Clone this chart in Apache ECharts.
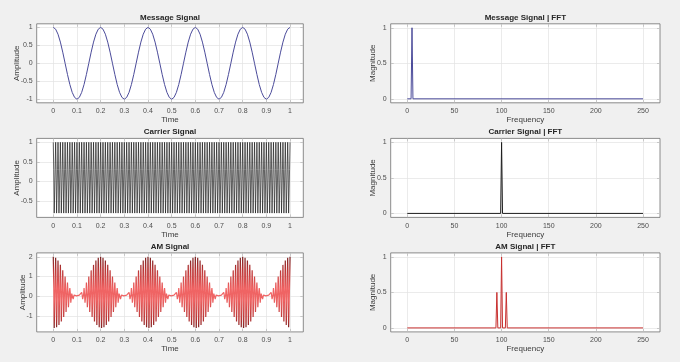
<!DOCTYPE html>
<html><head><meta charset="utf-8">
<script src="https://cdn.jsdelivr.net/npm/echarts@6/dist/echarts.min.js"></script>
<style>html,body{margin:0;padding:0;background:#f0f0f0}#c{width:680px;height:362px}</style>
</head><body><div id="c"></div><script>
// ---- tick labels ----
const timeTicks = [0, 0.1, 0.2, 0.3, 0.4, 0.5, 0.6, 0.7, 0.8, 0.9, 1];
const freqTicks = [0, 50, 100, 150, 200, 250];
const messageAmpTicks = [-1, -0.5, 0, 0.5, 1];
const carrierAmpTicks = [-0.5, 0, 0.5, 1];
const amAmpTicks = [-1, 0, 1, 2];
const magnitudeTicks = [0, 0.5, 1];

// ---- titles ----
const plotTitles = ['Message Signal', 'Message Signal | FFT', 'Carrier Signal', 'Carrier Signal | FFT', 'AM Signal', 'AM Signal | FFT'];

// ---- message signal: one period (0.2 s) read every 0.01 s, repeated 5 times ----
const messageStep = 0.01;
const messageCycle = [1, 0.95, 0.81, 0.59, 0.31, 0, -0.31, -0.59, -0.81, -0.95, -1, -0.95, -0.81, -0.59, -0.31, 0, 0.31, 0.59, 0.81, 0.95];
const messageCycles = 5;

// ---- carrier signal: one period (0.01 s) read every 0.002 s, repeated 100 times ----
const carrierStep = 0.002;
const carrierCycle = [1, 0.31, -0.81, -0.81, 0.31];
const carrierCycles = 100;

// ---- spectra (normalised magnitude) ----
const messageFftFreq = [0, 4, 5, 6, 250];
const messageFftMag = [0, 0, 1, 0, 0];
const carrierFftFreq = [0, 99, 100, 101, 250];
const carrierFftMag = [0, 0, 1, 0, 0];
const amFftFreq = [0, 94, 95, 96, 99, 100, 101, 104, 105, 106, 250];
const amFftMag = [0, 0, 0.5, 0, 0, 1, 0, 0, 0.5, 0, 0];

// ---- build series data ----
const messageData = [];
for (let k = 0; k <= messageCycle.length * messageCycles; k++) {
  messageData.push([+(k * messageStep).toFixed(4), messageCycle[k % messageCycle.length]]);
}
const carrierData = [];
const amData = [];
const samplesPerMessageStep = Math.round(messageStep / carrierStep);
for (let n = 0; n <= carrierCycle.length * carrierCycles; n++) {
  const t = +(n * carrierStep).toFixed(4);
  const c = carrierCycle[n % carrierCycle.length];
  const m = messageCycle[Math.floor(n / samplesPerMessageStep) % messageCycle.length];
  carrierData.push([t, c]);
  amData.push([t, (1 + m) * c]);
}
const zip = (a, b) => a.map((v, i) => [v, b[i]]);

const amGradient = new echarts.graphic.LinearGradient(0, 0, 0, 1, [
  { offset: 0, color: '#6e2020' }, { offset: 0.2, color: '#b83434' }, { offset: 0.45, color: '#f06464' },
  { offset: 0.6, color: '#ee6464' }, { offset: 0.85, color: '#b83434' }, { offset: 1, color: '#6e2020' }]);

const panels = [
  { data: messageData, color: '#4b4b9a', width: 1, xTicks: timeTicks, yTicks: messageAmpTicks, xr: [-0.07, 1.056], yr: [-1.1, 1.1], xName: 'Time', yName: 'Amplitude', yGap: 16 },
  { data: zip(messageFftFreq, messageFftMag), color: '#4b4b9a', width: 1, xTicks: freqTicks, yTicks: magnitudeTicks, xr: [-17.6, 268], yr: [-0.056, 1.056], xName: 'Frequency', yName: 'Magnitude', yGap: 14 },
  { data: carrierData, color: '#1e1e1e', width: 0.7, xTicks: timeTicks, yTicks: carrierAmpTicks, xr: [-0.07, 1.056], yr: [-0.92, 1.1], xName: 'Time', yName: 'Amplitude', yGap: 16 },
  { data: zip(carrierFftFreq, carrierFftMag), color: '#1e1e1e', width: 1, xTicks: freqTicks, yTicks: magnitudeTicks, xr: [-17.6, 268], yr: [-0.056, 1.056], xName: 'Frequency', yName: 'Magnitude', yGap: 14 },
  { data: amData, color: amGradient, width: 1.2, xTicks: timeTicks, yTicks: amAmpTicks, xr: [-0.07, 1.056], yr: [-1.82, 2.2], xName: 'Time', yName: 'Amplitude', yGap: 9.5 },
  { data: zip(amFftFreq, amFftMag), color: '#c8302f', width: 1, xTicks: freqTicks, yTicks: magnitudeTicks, xr: [-17.6, 268], yr: [-0.056, 1.056], xName: 'Frequency', yName: 'Magnitude', yGap: 14 }
];

const colLeft = [36.7, 390.7], colWidth = [266.6, 269.3];
const rowTop = [23.8, 138.4, 252.9], rowHeight = 79;
const FONT = 'Liberation Sans, Arial, Helvetica, sans-serif';
const tickCol = '#555', gridCol = '#e2e2e2', boxCol = '#707070';

const grid = [], xAxis = [], yAxis = [], series = [], title = [];
panels.forEach((p, i) => {
  const col = i % 2, row = Math.floor(i / 2);
  grid.push({ left: colLeft[col], top: rowTop[row], width: colWidth[col], height: rowHeight,
    show: true, backgroundColor: '#ffffff', borderColor: boxCol, borderWidth: 0.8, containLabel: false });
  title.push({ text: plotTitles[i], left: colLeft[col] + colWidth[col] / 2, top: rowTop[row] - 10.5, textAlign: 'center', padding: 0,
    textStyle: { fontFamily: FONT, fontSize: 8, fontWeight: 'bold', color: '#262626' } });
  const fmt = v => String(v);
  const tick = (vals) => ({ show: true, inside: true, length: 3, customValues: vals, lineStyle: { color: tickCol, width: 0.7 } });
  xAxis.push({ gridIndex: i, type: 'value', min: p.xr[0], max: p.xr[1], position: 'bottom',
    axisLine: { show: false, onZero: false },
    axisTick: tick(p.xTicks),
    axisLabel: { customValues: p.xTicks, formatter: fmt, margin: 5, fontSize: 7, fontFamily: FONT, color: '#4d4d4d' },
    splitLine: { show: false },
    name: p.xName, nameLocation: 'middle', nameGap: 13, nameTextStyle: { fontFamily: FONT, fontSize: 8, color: '#3a3a3a' } });
  xAxis.push({ gridIndex: i, type: 'value', min: p.xr[0], max: p.xr[1], position: 'top',
    axisLine: { show: false, onZero: false },
    axisTick: tick(p.xTicks),
    axisLabel: { show: false, customValues: p.xTicks }, splitLine: { show: false } });
  yAxis.push({ gridIndex: i, type: 'value', min: p.yr[0], max: p.yr[1], position: 'left',
    axisLine: { show: false, onZero: false },
    axisTick: tick(p.yTicks),
    axisLabel: { customValues: p.yTicks, formatter: fmt, margin: 4, fontSize: 7, fontFamily: FONT, color: '#4d4d4d' },
    splitLine: { show: false },
    name: p.yName, nameLocation: 'middle', nameGap: p.yGap, nameMoveOverlap: false,
    nameTextStyle: { fontFamily: FONT, fontSize: 8, color: '#3a3a3a' } });
  yAxis.push({ gridIndex: i, type: 'value', min: p.yr[0], max: p.yr[1], position: 'right',
    axisLine: { show: false, onZero: false },
    axisTick: tick(p.yTicks),
    axisLabel: { show: false, customValues: p.yTicks }, splitLine: { show: false } });
  // grid lines at tick positions
  series.push({ type: 'line', xAxisIndex: 2 * i, yAxisIndex: 2 * i, data: [], silent: true, animation: false, z: 1,
    markLine: { silent: true, symbol: 'none', animation: false, label: { show: false }, z: 1,
      lineStyle: { color: gridCol, width: 0.7, type: 'solid' }, emphasis: { disabled: true },
      data: p.xTicks.map(v => ({ xAxis: v })).concat(p.yTicks.map(v => ({ yAxis: v }))) } });
  series.push({ type: 'line', xAxisIndex: 2 * i, yAxisIndex: 2 * i, data: p.data, showSymbol: false, symbol: 'none',
    lineStyle: { color: p.color, width: p.width }, itemStyle: { color: '#c8302f' }, silent: true, animation: false, z: 10 });
});

const chart = echarts.init(document.getElementById('c'), null, { renderer: 'canvas' });
chart.setOption({ backgroundColor: '#f0f0f0', animation: false, title, grid, xAxis, yAxis, series });
</script></body></html>
